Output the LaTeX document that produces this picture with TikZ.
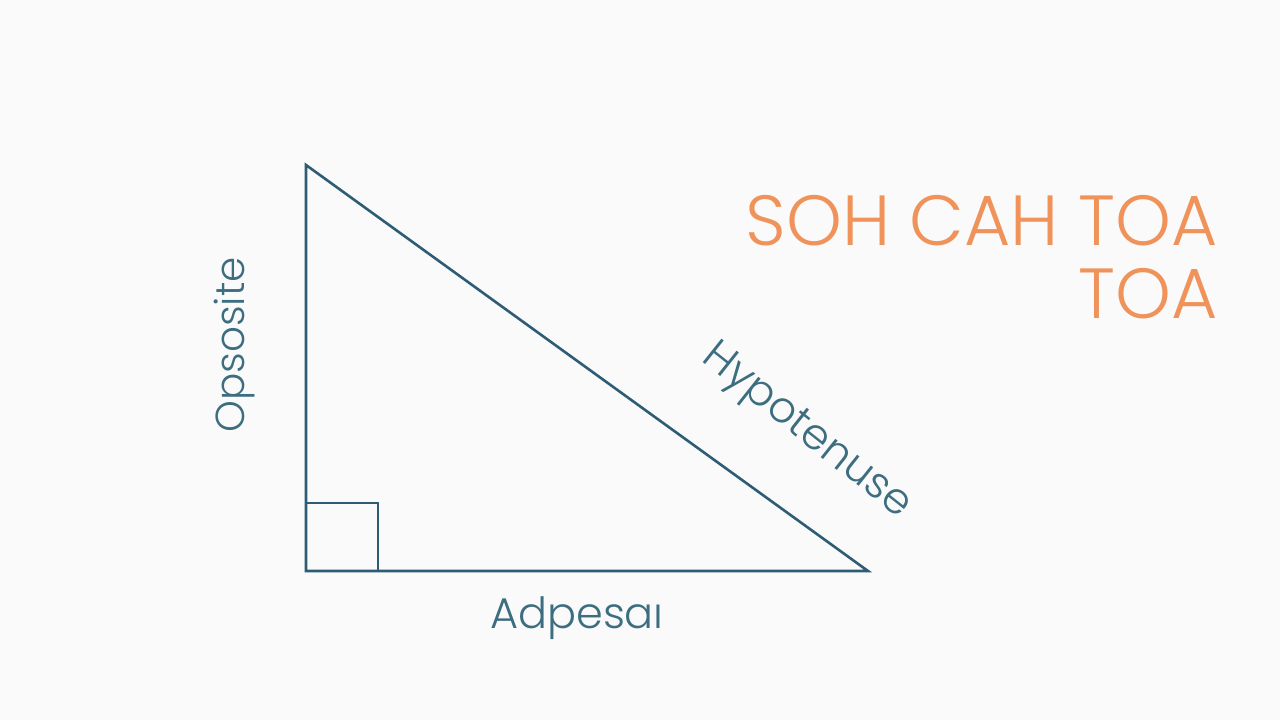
\documentclass[tikz,border=0pt]{standalone}
\usepackage{fontspec}
\setmainfont{Poppins Light}
\definecolor{bgc}{HTML}{FAFAFA}
\definecolor{linec}{HTML}{2E5C74}
\definecolor{textc}{HTML}{3D6E80}
\definecolor{orangec}{HTML}{F0935A}
\begin{document}
\begin{tikzpicture}[x=1pt,y=-1pt,
  edge/.style={draw=linec,line width=2.6pt,line join=miter},
  sidelabel/.style={text=textc,inner sep=0pt,font=\fontsize{43}{50}\selectfont},
  headline/.style={text=orangec,inner sep=0pt,font=\fontsize{71}{76}\selectfont}]
\fill[bgc] (0,0) rectangle (1280,720);
\useasboundingbox (0,0) rectangle (1280,720);
\coordinate (top) at (306,165);
\coordinate (corner) at (306,571);
\coordinate (right) at (868,571);
\draw[edge] (top) -- (corner) -- (right) -- cycle;
\draw[edge,line width=2.2pt] (306,503) -- (378,503) -- (378,571);
\node[sidelabel,rotate=90,anchor=base,font=\fontsize{40.5}{48}\selectfont] (opp) at (244,345) {Opsosite};
\node[sidelabel,rotate=-38.5,anchor=base] (hyp) at (800,440) {Hypotenuse};
\node[sidelabel,anchor=base] (adj) at (577,628) {Adpesaı};
\node[headline,anchor=base east] (soh) at (1218,245) {SOH CAH TOA};
\node[headline,anchor=base east] (toa) at (1218,318) {TOA};
\end{tikzpicture}
\end{document}
